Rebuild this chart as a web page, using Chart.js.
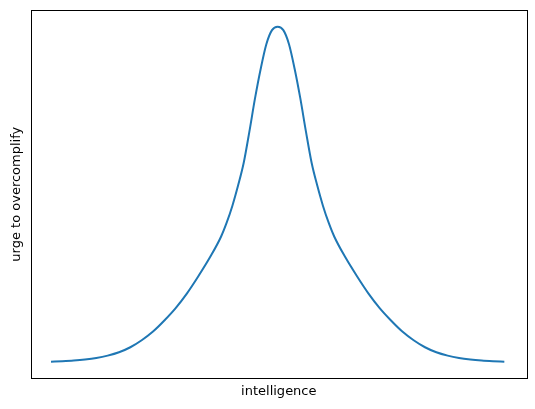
<!DOCTYPE html>
<html>
<head>
<meta charset="utf-8">
<script src="https://cdn.jsdelivr.net/npm/chart.js@4"></script>
<style>
  html, body { margin: 0; padding: 0; background: #fff; }
</style>
</head>
<body>
<canvas id="curveChart" width="535" height="409"></canvas>
<script>
  // intelligence (arbitrary units) vs urge to overcomplify (normalised)
  const intelligence = [-5, -4.75, -4.5, -4.25, -4, -3.75, -3.5, -3.25, -3, -2.75, -2.5, -2.25, -2, -1.75, -1.5, -1.25, -1.125, -1, -0.875, -0.75, -0.625, -0.5, -0.375, -0.25, -0.125,
                        0, 0.125, 0.25, 0.375, 0.5, 0.625, 0.75, 0.875, 1, 1.125, 1.25, 1.5, 1.75, 2, 2.25, 2.5, 2.75, 3, 3.25, 3.5, 3.75, 4, 4.25, 4.5, 4.75, 5];
  const urge = [0, 0.0015, 0.0035, 0.0065, 0.011, 0.018, 0.028, 0.043, 0.064, 0.090, 0.123, 0.160, 0.204, 0.255, 0.310, 0.373, 0.415, 0.465, 0.525, 0.593, 0.686, 0.786, 0.874, 0.948, 0.990,
                1.000, 0.990, 0.948, 0.874, 0.786, 0.686, 0.593, 0.525, 0.465, 0.415, 0.373, 0.310, 0.255, 0.204, 0.160, 0.123, 0.090, 0.064, 0.043, 0.028, 0.018, 0.011, 0.0065, 0.0035, 0.0015, 0];

  const xLabel = 'intelligence';
  const yLabel = 'urge to overcomplify';

  // draw the full axes box like matplotlib
  const frame = {
      id: 'frame',
      afterDraw(chart) {
          const a = chart.chartArea;
          const c = chart.ctx;
          c.save();
          c.strokeStyle = '#000';
          c.lineWidth = 1;
          c.strokeRect(Math.round(a.left) + 0.5, Math.round(a.top) + 0.5,
                       Math.round(a.right - a.left), Math.round(a.bottom - a.top));
          c.restore();
      }
  };

  const ctx = document.getElementById('curveChart').getContext('2d');
  new Chart(ctx, {
      type: 'line',
      data: {
          datasets: [{
              data: intelligence.map((x, i) => ({ x: x, y: urge[i] })),
              borderColor: '#1f77b4',
              borderWidth: 2,
              pointRadius: 0,
              fill: false,
              cubicInterpolationMode: 'monotone'
          }]
      },
      options: {
          responsive: false,
          animation: false,
          devicePixelRatio: 1,
          layout: { padding: { left: 9, right: 8, top: 10, bottom: 10 } },
          plugins: {
              legend: { display: false },
              tooltip: { enabled: false }
          },
          scales: {
              x: {
                  type: 'linear',
                  min: -5.45,
                  max: 5.5,
                  grid: { display: false, drawTicks: false },
                  border: { display: false },
                  ticks: { display: false },
                  title: {
                      display: true,
                      text: xLabel,
                      color: '#000',
                      font: { family: 'DejaVu Sans', size: 13 },
                      padding: { top: 5, bottom: 0 }
                  }
              },
              y: {
                  min: -0.05,
                  max: 1.05,
                  grid: { display: false, drawTicks: false },
                  border: { display: false },
                  ticks: { display: false },
                  title: {
                      display: true,
                      text: yLabel,
                      color: '#000',
                      font: { family: 'DejaVu Sans', size: 13 },
                      padding: { top: 0, bottom: 6 }
                  }
              }
          }
      },
      plugins: [frame]
  });
</script>
</body>
</html>
